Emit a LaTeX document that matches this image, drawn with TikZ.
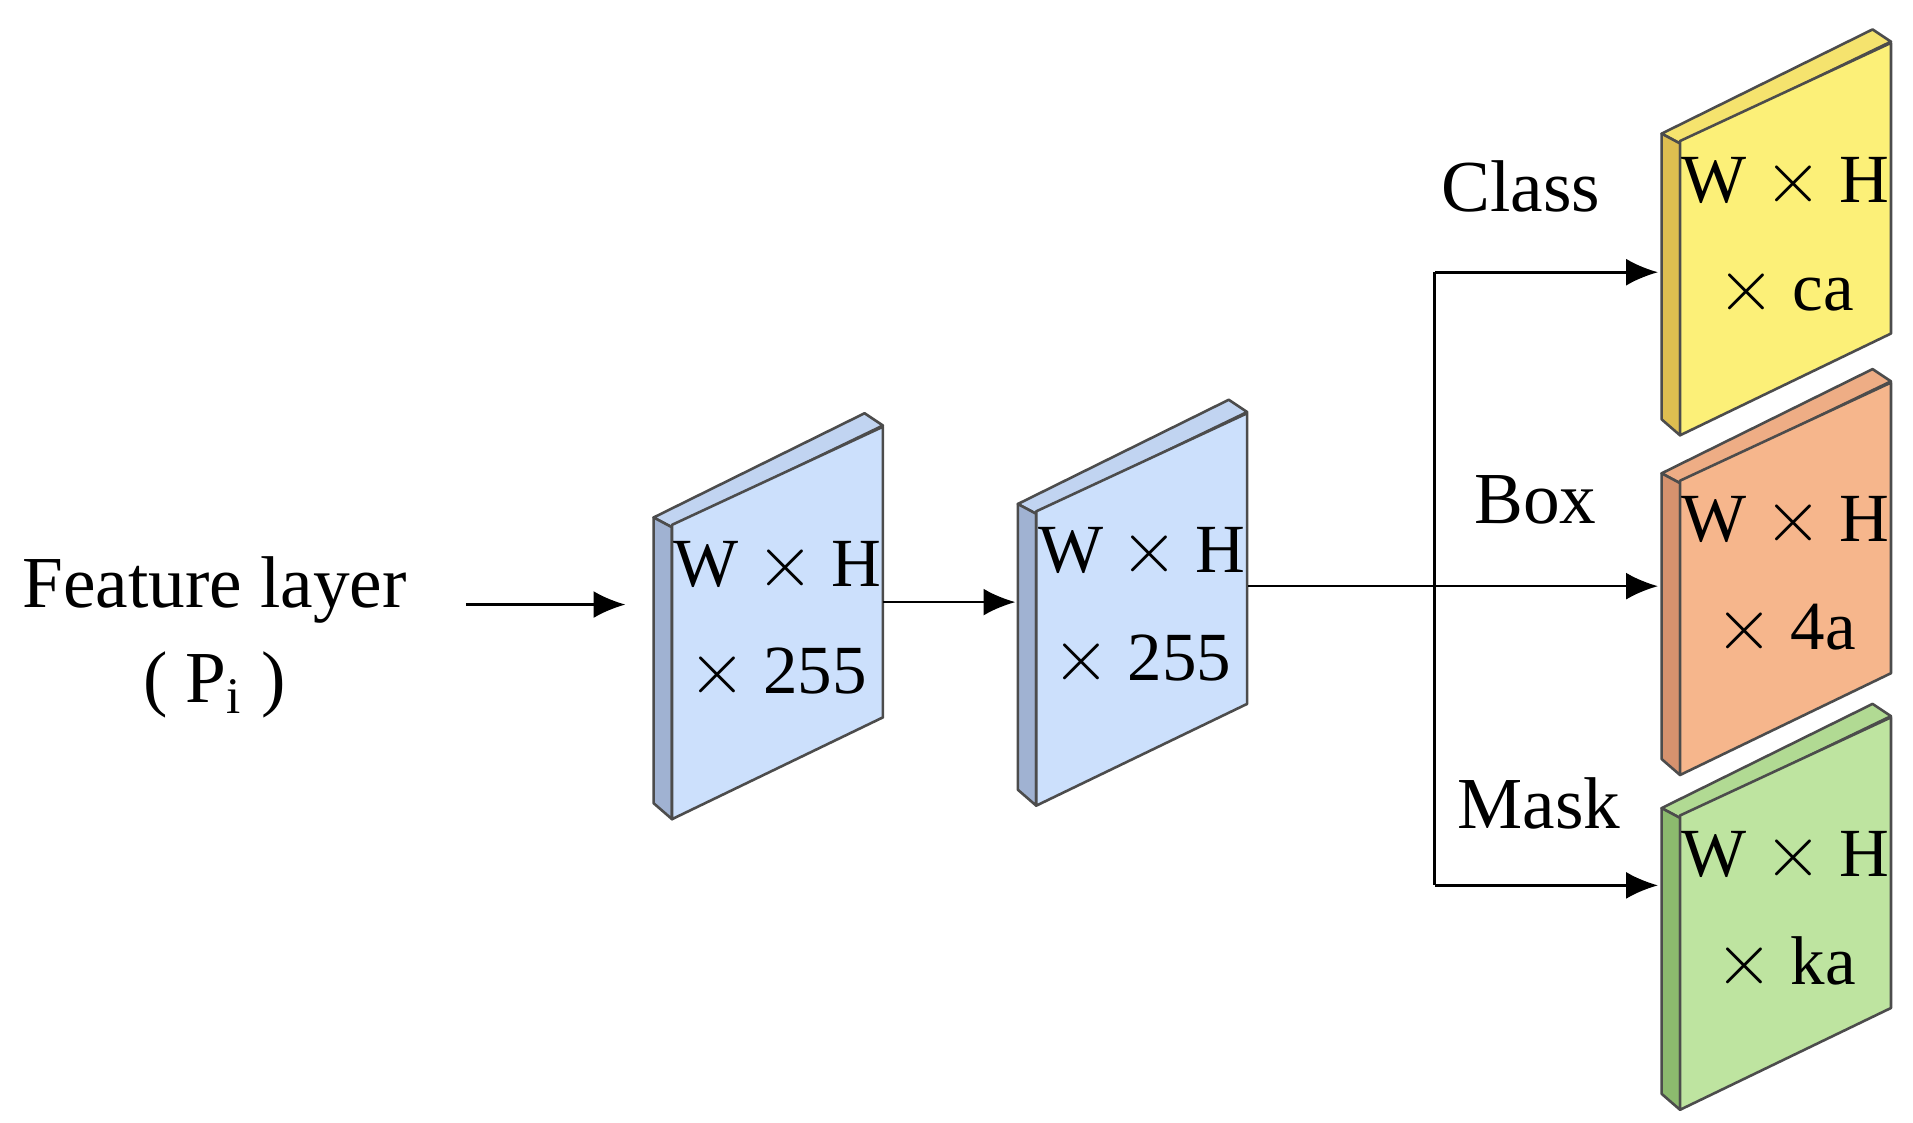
\documentclass[tikz,border=0pt]{standalone}
\usepackage{fontspec}
\setmainfont{Liberation Serif}
\usetikzlibrary{arrows.meta}

\tikzset{
  face/.style={draw=black!70, line width=0.6pt, line join=round},
  lbl/.style={font=\fontsize{17}{20}\selectfont},
  dim/.style={font=\fontsize{16}{21}\selectfont, align=center, inner sep=0pt,
    minimum width=1.72cm, minimum height=2.37cm},
  arr/.style={-{Latex[length=2.6mm,width=2.2mm]}, line width=0.6pt}
}

% \slab{name}{x}{y}{light}{dark}{text}: (x,y) is the lower left corner of the front face
\newcommand{\slab}[6]{
  \fill[#4!75!#5, face] (#2,#3+2.38) -- ++(-0.15,0.08) -- ++(1.72,0.85) -- ++(0.15,-0.1) -- cycle;
  \fill[#5, face] (#2,#3) -- ++(-0.15,0.13) -- ++(0,2.33) -- ++(0.15,-0.08) -- cycle;
  \fill[#4, face] (#2,#3) -- ++(1.72,0.83) -- ++(0,2.37) -- ++(-1.72,-0.8) -- cycle;
  \node[dim] (#1) at (#2+0.86,#3+1.62) {#6};
}

\begin{document}
\begin{tikzpicture}
  \useasboundingbox (0,0) rectangle (15.6,9.15);

  \definecolor{blueL}{RGB}{204,224,252}
  \definecolor{blueD}{RGB}{160,178,210}
  \definecolor{yelL}{RGB}{252,240,120}
  \definecolor{yelD}{RGB}{222,190,80}
  \definecolor{orgL}{RGB}{246,182,140}
  \definecolor{orgD}{RGB}{214,146,110}
  \definecolor{grnL}{RGB}{190,228,160}
  \definecolor{grnD}{RGB}{140,186,110}

  \node[lbl, align=center] (feat) at (1.75,3.95) {Feature layer\\[2pt]( P$_{\mathrm{i}}$ )};

  \slab{conv1}{5.48}{2.47}{blueL}{blueD}{W $\times$ H\\[4pt]$\times$ 255}
  \slab{conv2}{8.45}{2.58}{blueL}{blueD}{W $\times$ H\\[4pt]$\times$ 255}
  \slab{cls}{13.70}{5.60}{yelL}{yelD}{W $\times$ H\\[4pt]$\times$ ca}
  \slab{box}{13.70}{2.83}{orgL}{orgD}{W $\times$ H\\[4pt]$\times$ 4a}
  \slab{mask}{13.70}{0.10}{grnL}{grnD}{W $\times$ H\\[4pt]$\times$ ka}

  \coordinate (split) at (11.70,4.37);
  \coordinate (top) at (11.70,6.93);
  \coordinate (bot) at (11.70,1.93);

  \draw[arr] (3.80,4.22) -- (5.10,4.22);
  \draw[arr] (7.20,4.24) -- (8.28,4.24);
  \draw[line width=0.6pt] (10.18,4.37) -- (split);
  \draw[line width=0.6pt] (top) -- (bot);
  \draw[arr] (top) -- (13.52,6.93);
  \draw[arr] (split) -- (13.52,4.37);
  \draw[arr] (bot) -- (13.52,1.93);

  \node[lbl] at (12.40,7.63) {Class};
  \node[lbl] at (12.52,5.07) {Box};
  \node[lbl] at (12.55,2.60) {Mask};
\end{tikzpicture}
\end{document}
